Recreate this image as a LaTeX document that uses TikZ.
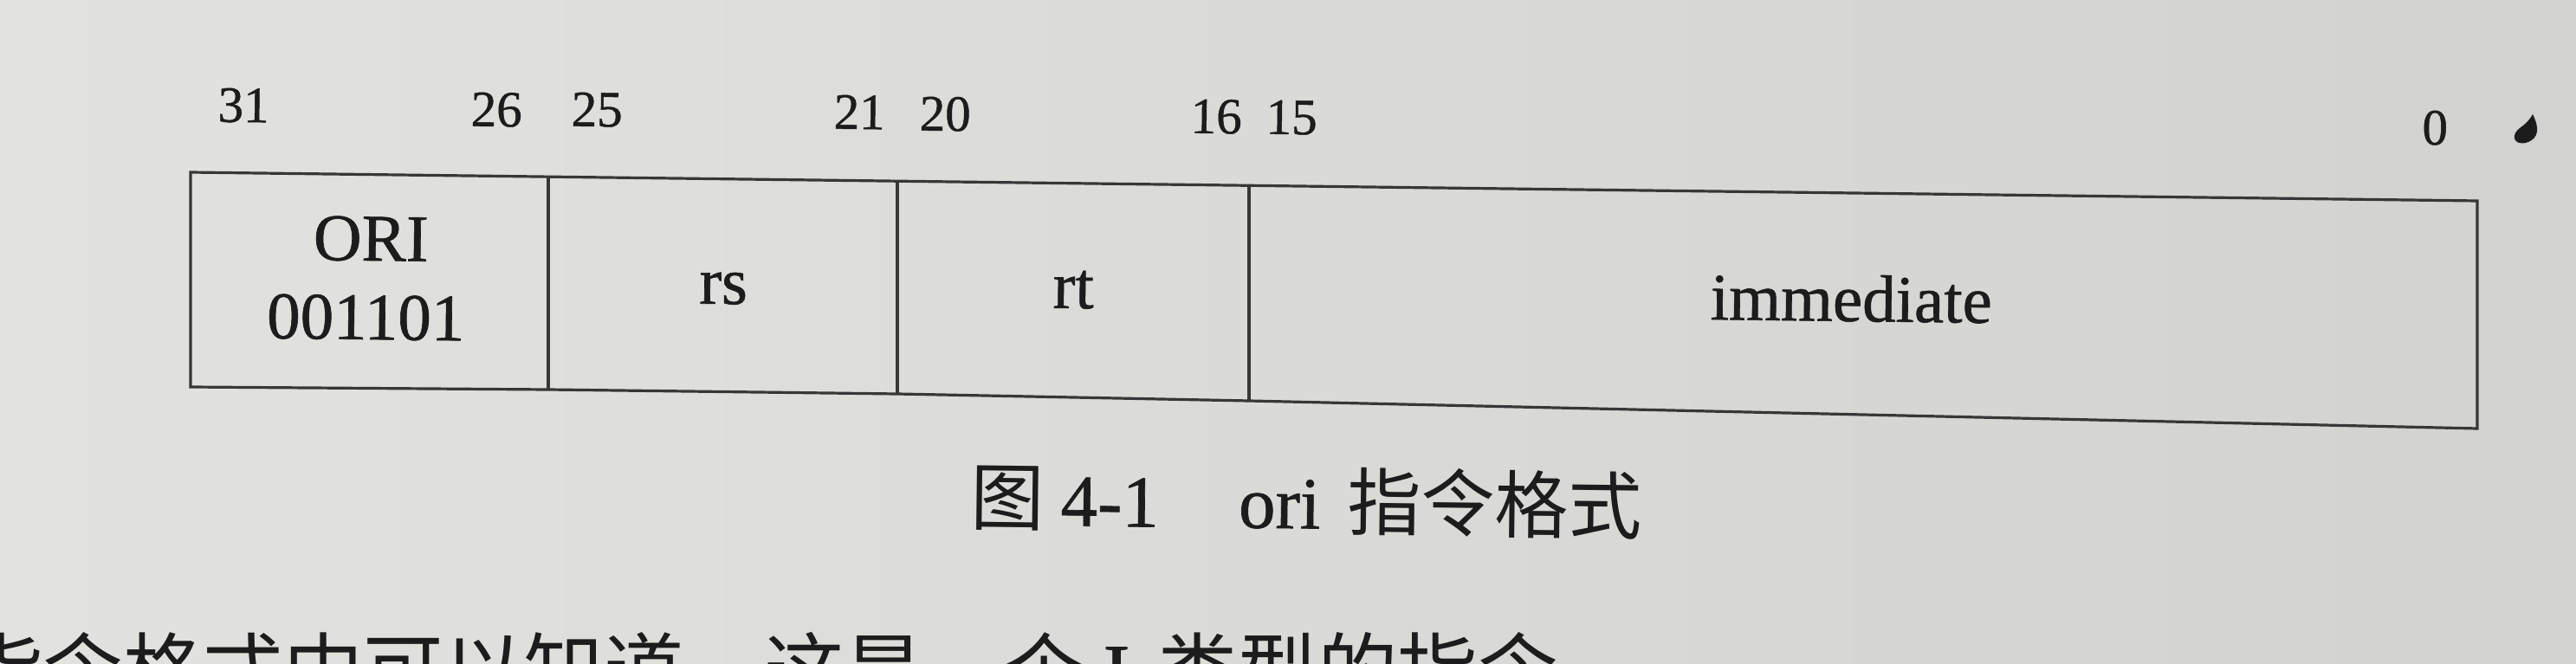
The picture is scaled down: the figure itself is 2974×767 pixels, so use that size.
\documentclass[tikz,border=0pt]{standalone}
\usepackage{fontspec}
\setmainfont{Liberation Serif}
\newfontfamily\thickserif{Liberation Serif}[FakeBold=0.8]
\newfontfamily\cjk{Noto Sans CJK SC}
\definecolor{paperL}{RGB}{226,226,222}
\definecolor{paperR}{RGB}{210,210,206}
\definecolor{ink}{RGB}{28,28,28}
\definecolor{rule}{RGB}{55,55,55}
\begin{document}
\begin{tikzpicture}[x=1pt,y=-1pt,
  bitnum/.style={font=\fontsize{59}{62}\thickserif, text=ink, inner sep=0pt, anchor=base, rotate=-0.7},
  field/.style={font=\fontsize{77}{90}\thickserif, text=ink, inner sep=0pt, anchor=base, rotate=-0.7},
  capt/.style={font=\fontsize{85}{90}\thickserif, text=ink, inner sep=0pt, anchor=base, rotate=-0.7},
  captcjk/.style={font=\fontsize{85}{90}\cjk, text=ink, inner sep=0pt, anchor=base, rotate=-0.7},
  body/.style={font=\fontsize{92.5}{100}\cjk, text=ink, inner sep=0pt, anchor=base west},
  frame/.style={draw=rule, line width=3.2pt, line join=miter}
]
\useasboundingbox (0,0) rectangle (2974,767);
\clip (0,0) rectangle (2974,767);
\shade[left color=paperL, right color=paperR] (0,0) rectangle (2974,767);

% box corners and dividers
\coordinate (TL) at (220,199);
\coordinate (TR) at (2860,232);
\coordinate (BR) at (2860,495);
\coordinate (BL) at (220,447);
\coordinate (d1t) at (633,204);
\coordinate (d1b) at (633,450);
\coordinate (d2t) at (1036,209);
\coordinate (d2b) at (1036,455);
\coordinate (d3t) at (1442,214);
\coordinate (d3b) at (1442,463);

\draw[frame] (TL) -- (TR) -- (BR) -- (d3b) -- (d2b) -- (d1b) -- (BL) -- cycle;
\draw[frame] (d1t) -- (d1b);
\draw[frame] (d2t) -- (d2b);
\draw[frame] (d3t) -- (d3b);

% bit numbers
\node[bitnum] (b31) at (281,141) {31};
\node[bitnum] (b26) at (573,146) {26};
\node[bitnum] (b25) at (689,146) {25};
\node[bitnum] (b21) at (992,149) {21};
\node[bitnum] (b20) at (1091,151) {20};
\node[bitnum] (b16) at (1404,154) {16};
\node[bitnum] (b15) at (1491,155) {15};
\node[bitnum] (b0) at (2811,167) {0};

% field labels
\node[field] (ori1) at (428,301) {ORI};
\node[field] (ori2) at (422,392) {001101};
\node[field] (rs) at (835,351) {rs};
\node[field] (rt) at (1239,356) {rt};
\node[field] (imm) at (2137,371) {immediate};

% caption
\node[captcjk] (tu) at (1163,606) {图};
\node[capt] (num) at (1281,608) {4-1};
\node[capt] (oriw) at (1477,610) {ori};
\node[captcjk] (fmt) at (1725,614) {指令格式};

% partial body line at the bottom edge
\node[body] (line1) at (-43,808) {指令格式中可以知道，这是一个};
\node[body, font=\fontsize{92.5}{100}\thickserif, anchor=base] (lineI) at (1289,808) {I};
\node[body] (line2) at (1336,808) {类型的指令};

% ink spot
\fill[ink] (2924,132) .. controls (2931,146) and (2933,160) .. (2916,165)
  .. controls (2901,168) and (2899,155) .. (2909,148)
  .. controls (2916,143) and (2920,139) .. cycle;
\end{tikzpicture}
\end{document}
